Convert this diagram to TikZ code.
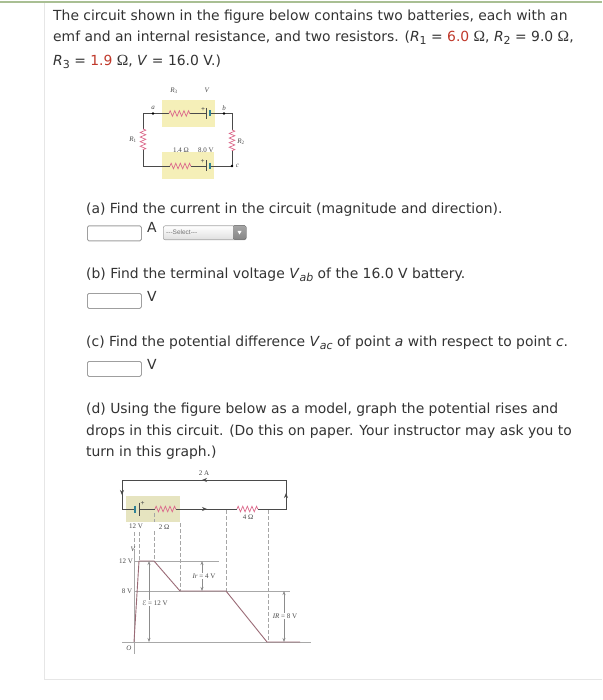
\documentclass[tikz,border=0pt]{standalone}
\usepackage{fontspec}
\setmainfont{DejaVu Sans}
\newfontfamily\lab{Liberation Serif}
\newfontfamily\selfont{Liberation Sans}
\newfontfamily\djv{DejaVu Sans}
\usetikzlibrary{decorations.pathmorphing,arrows.meta}
\definecolor{txt}{HTML}{333333}
\definecolor{redn}{HTML}{C0392B}
\definecolor{wire}{HTML}{4A4A4A}
\definecolor{resc}{HTML}{DC6A8C}
\definecolor{teal}{HTML}{2E8296}
\definecolor{yel}{HTML}{F5EFB8}
\definecolor{khaki}{HTML}{E6E4C0}
\definecolor{prof}{HTML}{9A6A76}
\definecolor{gline}{HTML}{A8A8A8}
\definecolor{dashc}{HTML}{A6A6A6}
\definecolor{frameg}{HTML}{A9BF93}
\definecolor{frames}{HTML}{E6E6E6}
\newcommand{\Om}{{\lab\fontsize{15.5}{16}\selectfont\char"03A9}}
\newcommand{\Oms}{{\lab\char"03A9}}
\newcommand{\sub}[1]{\raisebox{-3pt}{\fontsize{11}{12}\selectfont #1}}
\newcommand{\subs}[1]{\textsubscript{#1}}
\tikzset{
 x=1pt,y=-1pt,
 body/.style={anchor=base west,inner sep=0,text=txt,font=\fontsize{13.9}{16}\selectfont},
 small/.style={inner sep=0,text=wire,font=\lab\fontsize{7}{8}\selectfont},
 wirel/.style={draw=wire,line width=0.9pt},
 res/.style={draw=resc,line width=0.7pt,decorate,decoration={zigzag,amplitude=2.8pt,segment length=4.6pt}},
 plate/.style={draw=teal,line width=1.2pt},
 pplate/.style={draw=wire,line width=0.8pt},
 ibox/.style={draw=gray!75,rounded corners=1.5pt,line width=0.8pt,fill=white,minimum width=54pt,minimum height=15pt,inner sep=0,anchor=north west},
 dsh/.style={draw=dashc,line width=0.7pt,dash pattern=on 3.5pt off 2.5pt},
 gl/.style={draw=gline,line width=0.7pt},
 pr/.style={draw=prof,line width=0.9pt},
 dbl/.style={draw=gray!90,line width=0.5pt,{Stealth[length=4pt,width=3pt]}-{Stealth[length=4pt,width=3pt]}},
 flow/.style={-{Stealth[length=5pt,width=4pt]},draw=wire,line width=0.9pt},
}
\begin{document}
\begin{tikzpicture}
\useasboundingbox (0,0) rectangle (602,700);
\fill[white] (0,0) rectangle (602,700);
% page frame
\coordinate (ftl) at (44,2); \coordinate (ftr) at (602,2);
\coordinate (fbl) at (44,679); \coordinate (fbr) at (602,679);
\draw[frames,line width=1pt] (ftl) -- (fbl) -- (fbr);
\draw[frameg,line width=1.6pt] (0,2) -- (ftr);
% text
\node[body] (t1) at (53,21) {The circuit shown in the figure below contains two batteries, each with an};
\node[body] (t2) at (53,42) {emf and an internal resistance, and two resistors. (\textit{R}\sub{1} = \textcolor{redn}{6.0} \Om, \textit{R}\sub{2} = 9.0 \Om,};
\node[body] (t3) at (53,66) {\textit{R}\sub{3} = \textcolor{redn}{1.9} \Om, \textit{V} = 16.0 V.)};
\node[body] (qa) at (86,214) {(a) Find the current in the circuit (magnitude and direction).};
\node[body] (qb) at (86,278) {(b) Find the terminal voltage \textit{V}\sub{\textit{ab}} of the 16.0 V battery.};
\node[body] (qc) at (86,346) {(c) Find the potential difference \textit{V}\sub{\textit{ac}} of point \textit{a} with respect to point \textit{c}.};
\node[body] (qd1) at (86,413) {(d) Using the figure below as a model, graph the potential rises and};
\node[body] (qd2) at (86,435) {drops in this circuit. (Do this on paper. Your instructor may ask you to};
\node[body] (qd3) at (86,456) {turn in this graph.)};
% inputs
\node[ibox] (ia) at (87,225.5) {};
\node[body] (ua) at (147,232.5) {A};
\node[ibox] (ib) at (87,293) {};
\node[body] (ub) at (147,301) {V};
\node[ibox] (ic) at (87,361) {};
\node[body] (uc) at (147,369) {V};
% select
\node[draw=gray!70,rounded corners=2pt,top color=white,bottom color=gray!25,minimum width=83pt,minimum height=14pt,inner sep=0,anchor=north west,line width=0.6pt] (sel) at (163,225.5) {};
\node[anchor=west,inner sep=0,text=gray!90!black,font=\selfont\fontsize{6.5}{7}\selectfont] (selt) at (166,232.5) {---Select---};
\fill[rounded corners=1.5pt,top color=gray!70,bottom color=gray!95] (233,225.5) rectangle (246,239.5);
\fill[white] (237.5,231) -- (241.5,231) -- (239.5,234.5) -- cycle;
% ---- circuit 1
\fill[yel] (162,100) rectangle (215,127);
\fill[yel] (162,152) rectangle (214,179);
\coordinate (a) at (153,113.5); \coordinate (b) at (224,113.5); \coordinate (c) at (232,166);
\coordinate (tl) at (143,113.5); \coordinate (tr) at (232,113.5);
\coordinate (bl) at (143,166);
\coordinate (r3a) at (169,113.5); \coordinate (r3b) at (190,113.5);
\coordinate (bp1) at (206,113.5); \coordinate (bp2) at (210,113.5);
\coordinate (r1a) at (143,129); \coordinate (r1b) at (143,150);
\coordinate (r2a) at (232,130); \coordinate (r2b) at (232,151);
\coordinate (r4a) at (170,166); \coordinate (r4b) at (191,166);
\coordinate (bq1) at (206,166); \coordinate (bq2) at (210,166);
\draw[wirel] (r1a) -- (tl) -- (r3a) (r3b) -- (bp1) (bp2) -- (tr) -- (r2a)
 (r2b) -- (c) -- (bq2) (bq1) -- (r4b) (r4a) -- (bl) -- (r1b);
\draw[res] (r3a) -- (r3b);
\draw[res] (r4a) -- (r4b);
\draw[res] (r1a) -- (r1b);
\draw[res] (r2a) -- (r2b);
\draw[pplate] (206,108) -- (206,119);
\draw[plate] (210,110.5) -- (210,116.5);
\draw[pplate] (206,160.5) -- (206,171.5);
\draw[plate] (210,163) -- (210,169);
\fill[black] (a) circle (1.4pt) (b) circle (1.4pt) (c) circle (1.4pt);
\node[small] (lr3) at (174,90.5) {\textit{R}\subs{3}};
\node[small] (lv) at (207,90.5) {\textit{V}};
\node[small] (la) at (153,108) {\textit{a}};
\node[small] (lb) at (224,108) {\textit{b}};
\node[small] (lc) at (237.5,166) {\textit{c}};
\node[small] (lr1) at (133,140) {\textit{R}\subs{1}};
\node[small] (lr2) at (241,142) {\textit{R}\subs{2}};
\node[small] (l14) at (181,150) {1.4 \Oms};
\node[small] (l80) at (206,150) {8.0 V};
\node[small] (lpa) at (203,109.5) {\textbf{+}};
\node[small] (lpb) at (202.5,162) {\textbf{+}};
% ---- circuit 2
\fill[khaki] (126,496) rectangle (180,522);
\coordinate (dtl) at (122,480); \coordinate (dtr) at (286,480);
\coordinate (dbl) at (122,509); \coordinate (dbr) at (286,509);
\coordinate (p1) at (135,509); \coordinate (p2) at (139.3,509);
\coordinate (q1) at (155,509); \coordinate (q2) at (176,509);
\coordinate (s1) at (237,509); \coordinate (s2) at (258,509);
\draw[wirel] (p1) -- (dbl) -- (dtl) -- (dtr) -- (dbr) -- (s2) (s1) -- (q2) (q1) -- (p2);
\draw[flow] (122,489) -- (122,495);
\draw[flow] (286,499) -- (286,493);
\draw[flow] (208,480) -- (202,480);
\draw[flow] (201,509) -- (207,509);
\draw[res] (q1) -- (q2);
\draw[res] (s1) -- (s2);
\draw[plate] (135,505.5) -- (135,512.5);
\draw[pplate] (139.3,502.5) -- (139.3,515.5);
\node[small] (dpl) at (142.5,504) {\textbf{+}};
\node[small] (d2a) at (204,473) {2 A};
\node[small] (d4) at (248,517) {4 \Oms};
\node[small] (d2) at (164,527) {2 \Oms};
\node[small] (d12) at (136,526) {12 V};
% dashes
\draw[dsh] (134,532) -- (134,552);
\draw[dsh] (139,532) -- (139,561);
\draw[dsh] (154,513) -- (154,522) (154,531) -- (154,561);
\draw[dsh] (180,523) -- (180,591);
\draw[dsh] (226,510) -- (226,591);
\draw[dsh] (268,510) -- (268,642);
% graph
\coordinate (g0) at (134,642); \coordinate (g1) at (139,561); \coordinate (g2) at (154,561);
\coordinate (g3) at (180,591); \coordinate (g4) at (226,591); \coordinate (g5) at (267,642);
\coordinate (g6) at (300,642);
\draw[gl] (134,549) -- (134,654);
\draw[gl] (134,561) -- (219,561);
\draw[gl] (134,591) -- (290,591);
\draw[gl] (122,642) -- (311,642);
\draw[pr,line join=round] (g0) -- (g1) -- (g2) -- (g3) -- (g4) -- (g5) -- (g6);
\draw[dbl] (149,561) -- (149,642);
\draw[dbl] (202,561) -- (202,591);
\draw[dbl] (284,591) -- (284,642);
\node[small] (v12) at (126,561) {12 V};
\node[small] (v8) at (127,591) {8 V};
\node[small] (vv) at (133,549) {\textit{V}};
\node[small] (vo) at (129,648) {\textit{O}};
\node[small,fill=white,inner sep=0.5pt] (le) at (155,603) {{\djv\fontsize{6.5}{7}\selectfont ℰ} = 12 V};
\node[small,fill=white,inner sep=0.5pt] (lir) at (204,576) {\textit{Ir} = 4 V};
\node[small,fill=white,inner sep=0.5pt] (lbr) at (285,616) {\textit{IR} = 8 V};
\end{tikzpicture}
\end{document}
